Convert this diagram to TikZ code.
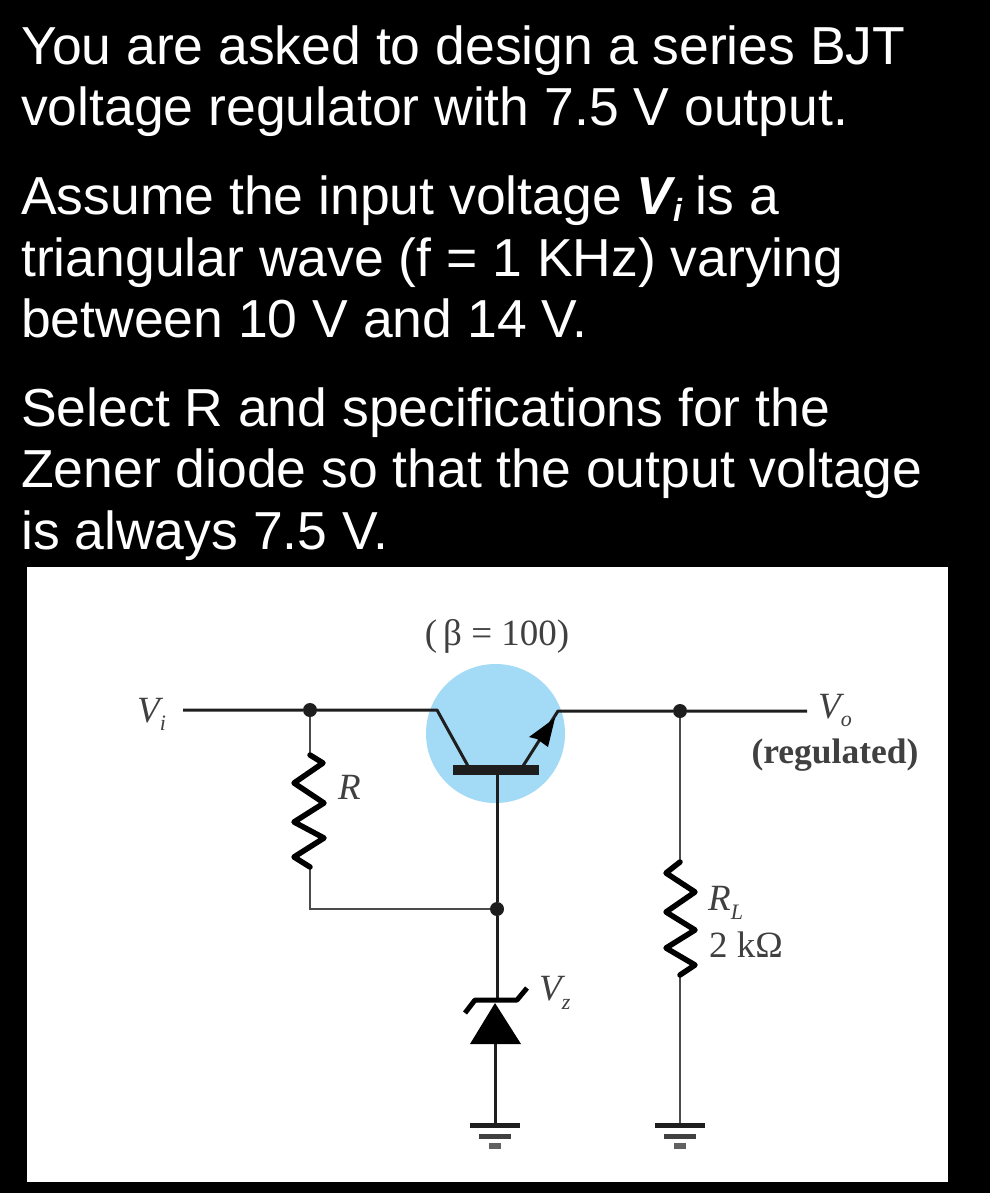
\documentclass[tikz,border=0pt]{standalone}
\usepackage{fontspec}
\setmainfont{Liberation Sans}
\newfontfamily\cirfont{Liberation Serif}
\definecolor{ink}{HTML}{1E1E1E}
\definecolor{labelink}{HTML}{404040}
\definecolor{bjtblue}{HTML}{A3DAF6}
\newcommand{\subtxt}[2]{\raisebox{#1}{\fontsize{22}{22}\selectfont\itshape #2}}
\tikzset{
  x=1pt,y=-1pt,
  headline/.style={anchor=base west,inner sep=0pt,text=white,font=\fontsize{53.5}{53.5}\selectfont},
  circlabel/.style={inner sep=0pt,text=labelink,font=\cirfont\fontsize{37}{37}\selectfont},
  wire/.style={draw=ink,line width=3pt},
  thinwire/.style={draw=ink!80,line width=2.4pt},
  zig/.style={draw=black,line width=5.5pt,line join=round,line cap=round},
  junction/.style={circle,fill=ink,inner sep=0pt,minimum size=14pt},
  pics/gnd/.style={code={
    \draw[draw=ink,line width=5pt] (-25,0) -- (25,0);
    \draw[draw=ink!85,line width=5pt] (-16,11) -- (16,11);
    \draw[draw=ink!70,line width=6pt] (-6,21) -- (6,21);
  }}
}
\begin{document}
\begin{tikzpicture}
\useasboundingbox (0,0) rectangle (990,1193);
\fill[black] (0,0) rectangle (990,1193);
\fill[white] (27,567) rectangle (948,1182);
% heading
\node[headline] (t1) at (21,65) {You are asked to design a series BJT};
\node[headline] (t2) at (21,126) {voltage regulator with 7.5 V output.};
\node[headline] (t3) at (21,214) {Assume the input voltage \textbf{\textit{V}}\kern-3pt\raisebox{-8pt}{\fontsize{32}{32}\selectfont\bfseries\itshape i}\kern-1pt{} is a};
\node[headline] (t4) at (21,276) {triangular wave (f = 1 KHz) varying};
\node[headline] (t5) at (21,337) {between 10 V and 14 V.};
\node[headline] (t6) at (21,426) {Select R and specifications for the};
\node[headline] (t7) at (21,487) {Zener diode so that the output voltage};
\node[headline] (t8) at (21,549) {is always 7.5 V.};
% transistor
\fill[bjtblue] (495.5,733.5) circle[radius=69.5];
% named points
\coordinate (vistart) at (183,710);
\node[junction] (j1) at (310,710) {};
\coordinate (cin) at (437,710);
\coordinate (cbar) at (468,766);
\coordinate (ebar) at (523,766);
\coordinate (eout) at (558,711);
\node[junction] (j2) at (680,711) {};
\coordinate (voend) at (807,711);
\node[fill=ink,inner sep=0pt,minimum width=86pt,minimum height=10pt] (bar) at (496,770) {};
\coordinate (rtop) at (310,755);
\coordinate (rbot) at (310,867);
\coordinate (rcorner) at (310,909);
\node[junction] (j3) at (497,909) {};
\coordinate (dtop) at (497,1000);
\coordinate (dbot) at (495,1043);
\coordinate (g1) at (495,1125);
\coordinate (rltop) at (680,862);
\coordinate (rlbot) at (680,975);
\coordinate (g2) at (680,1125);
% wires
\draw[wire,line join=round] (vistart) -- (j1) -- (cin) -- (cbar);
\draw[wire,line join=round] (ebar) -- (eout) -- (j2) -- (voend);
\draw[thinwire] (j1) -- (rtop);
\draw[thinwire] (rbot) -- (rcorner) -- (j3);
\draw[wire] (bar.south -| j3) -- (j3) -- (dtop);
\draw[wire] (dbot) -- (g1);
\draw[thinwire] (j2) -- (rltop);
\draw[thinwire] (rlbot) -- (g2);
% emitter arrow
\fill[black] (555,718) -- (529,737) -- (537,739) -- (548,747) -- cycle;
% resistors
\draw[zig] (rtop) -- ++(13,8) -- ++(-29,20) -- ++(30,20) -- ++(-30,19) -- ++(30,16) -- ++(-30,19) -- (rbot);
\draw[zig] (rltop) -- ++(-14,11) -- ++(29,19) -- ++(-29,20) -- ++(29,18) -- ++(-29,18) -- ++(29,17) -- (rlbot);
% zener
\draw[draw=black,line width=5pt,line join=round] (465,1013) -- (475,1000) -- (517,1000) -- (527,988);
\fill[black] (495,1003) -- (521,1044) -- (470,1044) -- cycle;
% grounds
\pic at (g1) {gnd};
\pic at (g2) {gnd};
% labels
\node[circlabel] (beta) at (497,636) {(\,β = 100)};
\node[circlabel,anchor=base west] (vi) at (137,722) {\itshape V\subtxt{-8pt}{i}};
\node[circlabel,anchor=base west] (vo) at (818,718) {\itshape V\subtxt{-8pt}{o}};
\node[circlabel,font=\cirfont\bfseries\fontsize{35.5}{35.5}\selectfont] (reg) at (835,755) {(regulated)};
\node[circlabel,anchor=base west] (rlab) at (338,799) {\itshape R};
\node[circlabel,anchor=base west] (rl) at (708,910) {\itshape R\subtxt{-9pt}{L}};
\node[circlabel,anchor=base west] (rlv) at (709,957) {2 kΩ};
\node[circlabel,anchor=base west] (vz) at (539,1000) {\itshape V\subtxt{-9pt}{z}};
\end{tikzpicture}
\end{document}
